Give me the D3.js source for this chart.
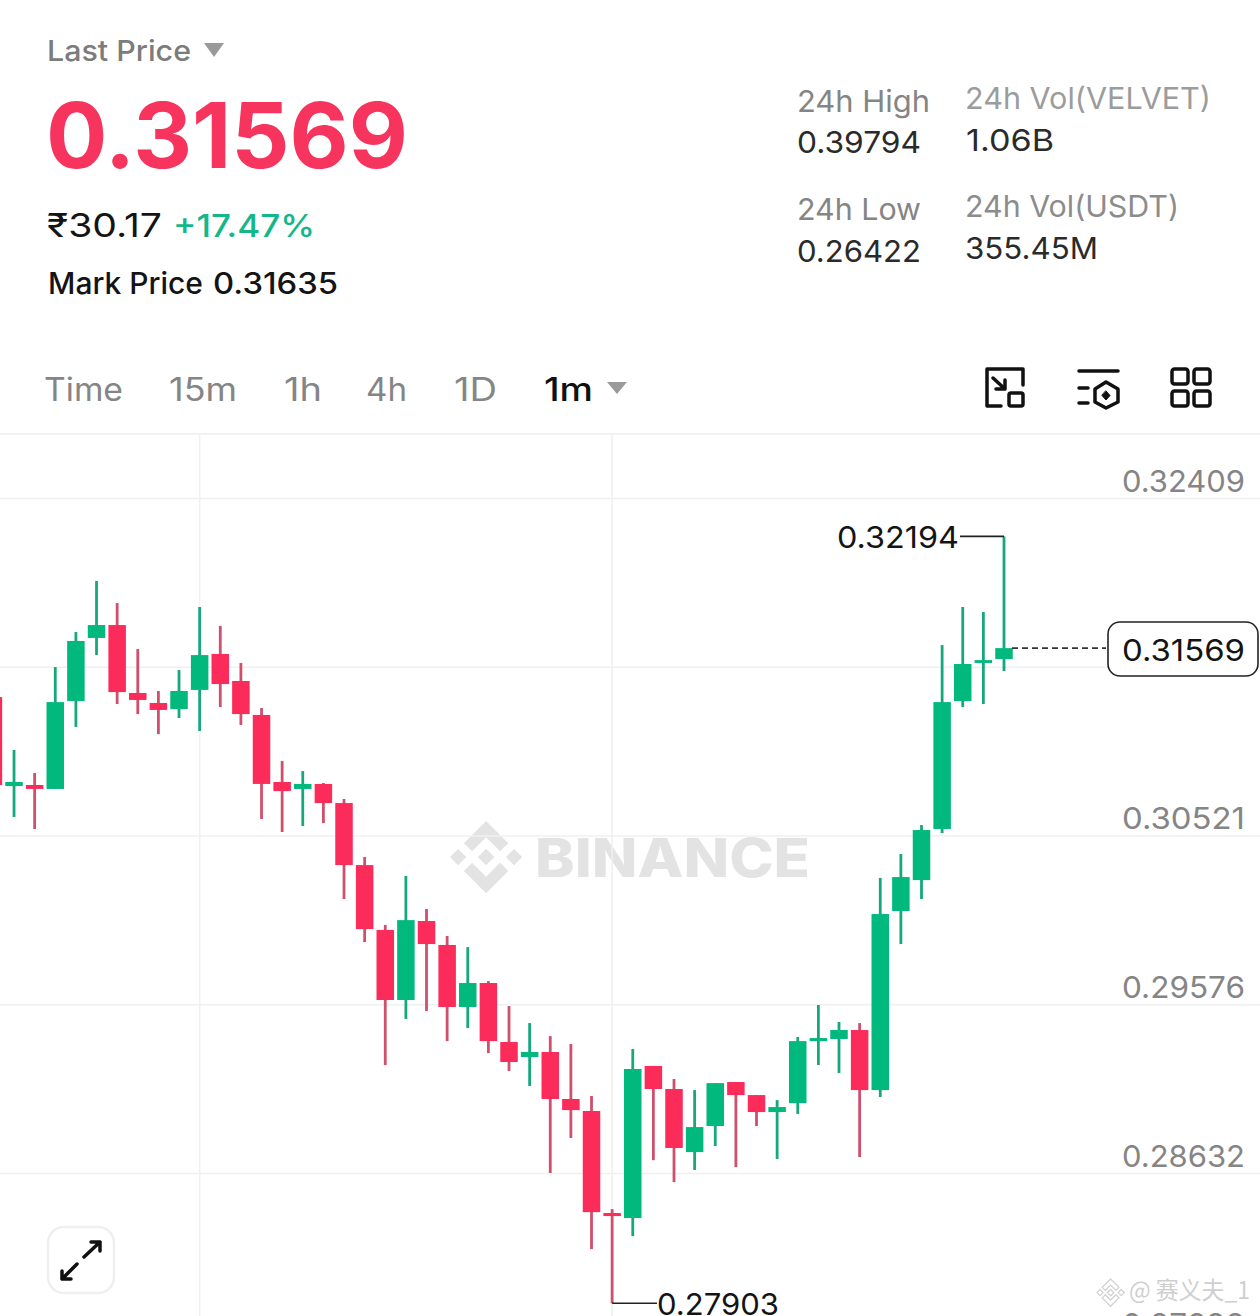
<!DOCTYPE html>
<html>
<head>
<meta charset="utf-8">
<script src="https://cdn.jsdelivr.net/npm/d3@7"></script>
<style>
  html, body { margin: 0; padding: 0; background: #fff; overflow: hidden; }
  svg { display: block; }
  text { font-family: Inter, "Noto Sans", sans-serif; }
</style>
</head>
<body>
<div id="chart"></div>
<script>
const opens = [0.31295,0.30797,0.30803,0.30781,0.31273,0.31626,0.31698,0.31318,0.31262,0.31228,
  0.31335,0.31536,0.31385,0.31195,0.30820,0.30781,0.30809,0.30702,0.30355,0.29992,
  0.29600,0.30042,0.29908,0.29561,0.29695,0.29365,0.29281,0.29309,0.29046,0.28979,
  0.28408,0.28380,0.29231,0.29102,0.28749,0.28895,0.29141,0.29068,0.28973,0.29023,
  0.29370,0.29382,0.29432,0.29096,0.30098,0.30271,0.30557,0.31273,0.31486,0.31508];
const closes = [0.30803,0.30820,0.30781,0.31267,0.31609,0.31698,0.31323,0.31279,0.31223,0.31329,
  0.31530,0.31368,0.31200,0.30809,0.30769,0.30809,0.30702,0.30355,0.29997,0.29600,
  0.30047,0.29913,0.29561,0.29695,0.29370,0.29253,0.29309,0.29046,0.28984,0.28413,
  0.28391,0.29214,0.29102,0.28772,0.28889,0.29135,0.29068,0.28973,0.29001,0.29370,
  0.29387,0.29432,0.29096,0.30081,0.30288,0.30551,0.31267,0.31480,0.31502,0.31569];
const highs = [0.31335,0.30999,0.30870,0.31463,0.31659,0.31945,0.31821,0.31564,0.31329,0.31446,
  0.31799,0.31693,0.31486,0.31234,0.30937,0.30881,0.30814,0.30725,0.30400,0.30020,
  0.30294,0.30109,0.29958,0.29896,0.29706,0.29566,0.29471,0.29398,0.29354,0.29063,
  0.28430,0.29326,0.29231,0.29158,0.29096,0.29135,0.29141,0.29068,0.29040,0.29393,
  0.29572,0.29477,0.29471,0.30283,0.30417,0.30579,0.31586,0.31799,0.31771,0.32194];
const lows = [0.30747,0.30624,0.30557,0.30781,0.31128,0.31530,0.31256,0.31200,0.31088,0.31178,
  0.31105,0.31239,0.31139,0.30613,0.30540,0.30574,0.30590,0.30165,0.29924,0.29236,
  0.29494,0.29538,0.29370,0.29443,0.29303,0.29203,0.29119,0.28632,0.28828,0.28206,
  0.27903,0.28279,0.28704,0.28581,0.28649,0.28783,0.28665,0.28895,0.28710,0.28962,
  0.29236,0.29191,0.28721,0.29057,0.29913,0.30165,0.30534,0.31239,0.31256,0.31441];
const priceTicks = [0.32409,0.31465,0.30521,0.29576,0.28632,0.27688];
const hiddenTick = 0.31465; // sits behind the last price box
const timeGridIndex = [10,30];
const lastPrice = 0.31569;
const highMark = {index: 49, price: 0.32194};
const lowMark = {index: 30, price: 0.27903};

const width = 1260;
const height = 1316;
const red = '#fb2b5a';
const redWick = '#cf4f6c';
const green = '#02b97d';
const greenWick = '#16a87c';
const gridColor = '#f0f0f0';
const bodyWidth = 17.5;
const logoPaths = ['m38.73 53.2 24.59-24.58 24.6 24.6 14.3-14.31L63.32 0 24.42 38.9zM0 63.31l14.3-14.31 14.31 14.31-14.31 14.3zm38.73 10.1 24.59 24.59 24.6-24.6 14.31 14.29-38.9 38.91-38.91-38.88v-.02zm59.27-10.09 14.3-14.31 14.31 14.3-14.31 14.32z',
  'm77.83 63.3-14.51-14.52-10.73 10.73-1.24 1.23-2.54 2.54 14.51 14.5 14.51-14.47z'];

const svg = d3.select('#chart').append('svg')
  .attr('width', width).attr('height', height)
  .attr('viewBox', [0, 0, width, height]);
svg.append('rect').attr('width', width).attr('height', height).attr('fill', '#fff');

const xScale = d3.scaleLinear().domain([0, 49]).range([-6.6, 1004]);
const yScale = d3.scaleLinear().domain([0.32409, 0.28632]).range([498, 1173]);

// x and textWidth are the inked extent, Inter adds about 1px of bearing each side
function label(x, y, text, size, color, textWidth, weight) {
  const t = svg.append('text')
    .attr('x', x - 1).attr('y', y)
    .attr('font-size', size)
    .attr('fill', color)
    .attr('font-weight', weight || 400)
    .text(text);
  if (textWidth) t.attr('textLength', textWidth + 2).attr('lengthAdjust', 'spacingAndGlyphs');
  return t;
}

function triangle(x0, x1, y0, y1) {
  svg.append('path')
    .attr('d', `M${x0} ${y0} H${x1} L${(x0 + x1) / 2} ${y1} Z`)
    .attr('fill', '#9a9a9a');
}

// header
label(48, 61, 'Last Price', 29, '#7c7c7c', 142, 500);
triangle(204, 224, 43, 57);
label(47, 168, '0.31569', 91, '#f6345d', 360, 700);
label(48, 237, '₹30.17', 33, '#141414', 113, 400);
label(174, 237, '+17.47%', 31, '#14b78a', 140, 500);
label(49, 294, 'Mark Price', 30, '#141414', 153, 500);
label(214, 294, '0.31635', 30, '#141414', 123, 500);

label(798, 112, '24h High', 30, '#858585', 131);
label(798, 153, '0.39794', 30, '#2a2a2a', 122);
label(798, 220, '24h Low', 30, '#858585', 122);
label(798, 262, '0.26422', 30, '#2a2a2a', 122);
label(966, 109, '24h Vol(VELVET)', 30, '#9c9c9c', 244);
label(967, 151, '1.06B', 30, '#2a2a2a', 86);
label(966, 217, '24h Vol(USDT)', 30, '#8c8c8c', 212);
label(966, 259, '355.45M', 30, '#2a2a2a', 131);

// tabs
label(45, 401, 'Time', 32, '#858585', 77);
label(170, 401, '15m', 32, '#858585', 66);
label(285, 401, '1h', 32, '#858585', 36);
label(367, 401, '4h', 32, '#858585', 39);
label(455, 401, '1D', 32, '#858585', 41);
label(545, 401, '1m', 32, '#111', 47, 500);
triangle(607, 627, 382, 394);

// toolbar icons
const icons = svg.append('g').attr('fill', 'none').attr('stroke', '#111')
  .attr('stroke-width', 3.5).attr('stroke-linecap', 'round').attr('stroke-linejoin', 'round');
icons.append('path').attr('d', 'M1001 406 H987 V369 H1023 V385');
icons.append('rect').attr('x', 1009).attr('y', 393).attr('width', 14).attr('height', 13).attr('rx', 2);
icons.append('path').attr('d', 'M993 378 L1005 389 M1005 380 V389 H996');
icons.append('path').attr('d', 'M1079 371 H1118 M1079 388 H1088 M1079 403 H1088');
icons.append('path').attr('d', 'M1106 382 L1118 389 V402 L1106 408 L1095 402 V389 Z');
icons.append('path').attr('d', 'M1106 391 L1110 395.5 L1106 400 L1102 395.5 Z').attr('fill', '#111').attr('stroke-width', 1);
[[1172, 369], [1194, 369], [1172, 391], [1194, 391]].forEach(([x, y]) => {
  icons.append('rect').attr('x', x).attr('y', y).attr('width', 16).attr('height', 15).attr('rx', 2.5);
});

// top border of chart
svg.append('line').attr('x1', 0).attr('x2', width).attr('y1', 434).attr('y2', 434)
  .attr('stroke', '#f2f2f2').attr('stroke-width', 2);

// watermark
const wm = svg.append('g').attr('transform', 'translate(450,821) scale(0.57)').attr('fill', '#e3e3e3');
logoPaths.forEach(d => wm.append('path').attr('d', d));
label(536, 877, 'BINANCE', 53, '#e3e3e3', 273, 800);

// grid
const yAxis = d3.axisRight(yScale)
  .tickValues(priceTicks)
  .tickSize(width)
  .tickFormat(d3.format('.5f'));
const yAxisG = svg.append('g').call(yAxis);
yAxisG.select('.domain').remove();
yAxisG.selectAll('line').attr('stroke', gridColor).attr('stroke-width', 1.5);
yAxisG.selectAll('text')
  .attr('x', 1122).attr('dy', -7)
  .attr('text-anchor', 'start')
  .attr('font-size', 30)
  .attr('font-family', 'Inter')
  .attr('textLength', 123)
  .attr('lengthAdjust', 'spacingAndGlyphs')
  .attr('fill', '#858585');
yAxisG.selectAll('.tick').filter(d => d === hiddenTick).select('text').remove();

svg.append('g').selectAll('line')
  .data(timeGridIndex)
  .join('line')
  .attr('x1', d => xScale(d)).attr('x2', d => xScale(d))
  .attr('y1', 435).attr('y2', height)
  .attr('stroke', gridColor).attr('stroke-width', 1.5);

// candles
const candles = opens.map((o, i) => ({i, o, c: closes[i], h: highs[i], l: lows[i], up: closes[i] >= o}));
const candleG = svg.append('g');
candleG.selectAll('.wick')
  .data(candles)
  .join('line').attr('class', 'wick')
  .attr('x1', d => xScale(d.i)).attr('x2', d => xScale(d.i))
  .attr('y1', d => yScale(d.h)).attr('y2', d => yScale(d.l))
  .attr('stroke', d => d.up ? greenWick : redWick)
  .attr('stroke-width', 2.8);
candleG.selectAll('.body')
  .data(candles)
  .join('rect').attr('class', 'body')
  .attr('x', d => xScale(d.i) - bodyWidth / 2)
  .attr('width', bodyWidth)
  .attr('y', d => yScale(Math.max(d.o, d.c)))
  .attr('height', d => Math.abs(yScale(d.o) - yScale(d.c)))
  .attr('fill', d => d.up ? green : red);

// high / low markers
const leaderG = svg.append('g').attr('fill', 'none').attr('stroke', '#222').attr('stroke-width', 1.6);
leaderG.append('line')
  .attr('x1', 960).attr('x2', xScale(highMark.index))
  .attr('y1', yScale(highMark.price)).attr('y2', yScale(highMark.price));
leaderG.append('line')
  .attr('x1', xScale(lowMark.index)).attr('x2', 657)
  .attr('y1', yScale(lowMark.price)).attr('y2', yScale(lowMark.price));
label(838, yScale(highMark.price) + 12, d3.format('.5f')(highMark.price), 30, '#141414', 120);
label(658, yScale(lowMark.price) + 12, d3.format('.5f')(lowMark.price), 30, '#141414', 120);

// last price line and box
svg.append('line')
  .attr('x1', xScale(49) + 8).attr('x2', 1106)
  .attr('y1', yScale(lastPrice)).attr('y2', yScale(lastPrice))
  .attr('stroke', '#333').attr('stroke-width', 1.6).attr('stroke-dasharray', '6 4');
svg.append('rect')
  .attr('x', 1108).attr('y', 622).attr('width', 150).attr('height', 54).attr('rx', 12)
  .attr('fill', '#fff').attr('stroke', '#222').attr('stroke-width', 1.6);
label(1123, 661, d3.format('.5f')(lastPrice), 30, '#141414', 121);

// expand button
svg.append('rect')
  .attr('x', 48).attr('y', 1227).attr('width', 66).attr('height', 66).attr('rx', 16)
  .attr('fill', '#fff').attr('stroke', '#efefef').attr('stroke-width', 2.5);
svg.append('path')
  .attr('d', 'M84 1257 L100 1242 M91 1242 H100 V1251 M77 1264 L62 1279 M62 1271 V1279 H71')
  .attr('fill', 'none').attr('stroke', '#111').attr('stroke-width', 3.5)
  .attr('stroke-linecap', 'round').attr('stroke-linejoin', 'round');

// corner watermark
const wm2 = svg.append('g').attr('transform', 'translate(1097,1279) scale(0.215)')
  .attr('fill', '#fff').attr('stroke', '#d2d2d2').attr('stroke-width', 6);
logoPaths.forEach(d => wm2.append('path').attr('d', d));
svg.append('text')
  .attr('x', 1129).attr('y', 1299)
  .attr('font-size', 24).attr('fill', '#cfcfcf')
  .attr('textLength', 121).attr('lengthAdjust', 'spacingAndGlyphs')
  .style('font-family', '"Noto Sans CJK SC"')
  .text('@ 赛义夫_1');
</script>
</body>
</html>
